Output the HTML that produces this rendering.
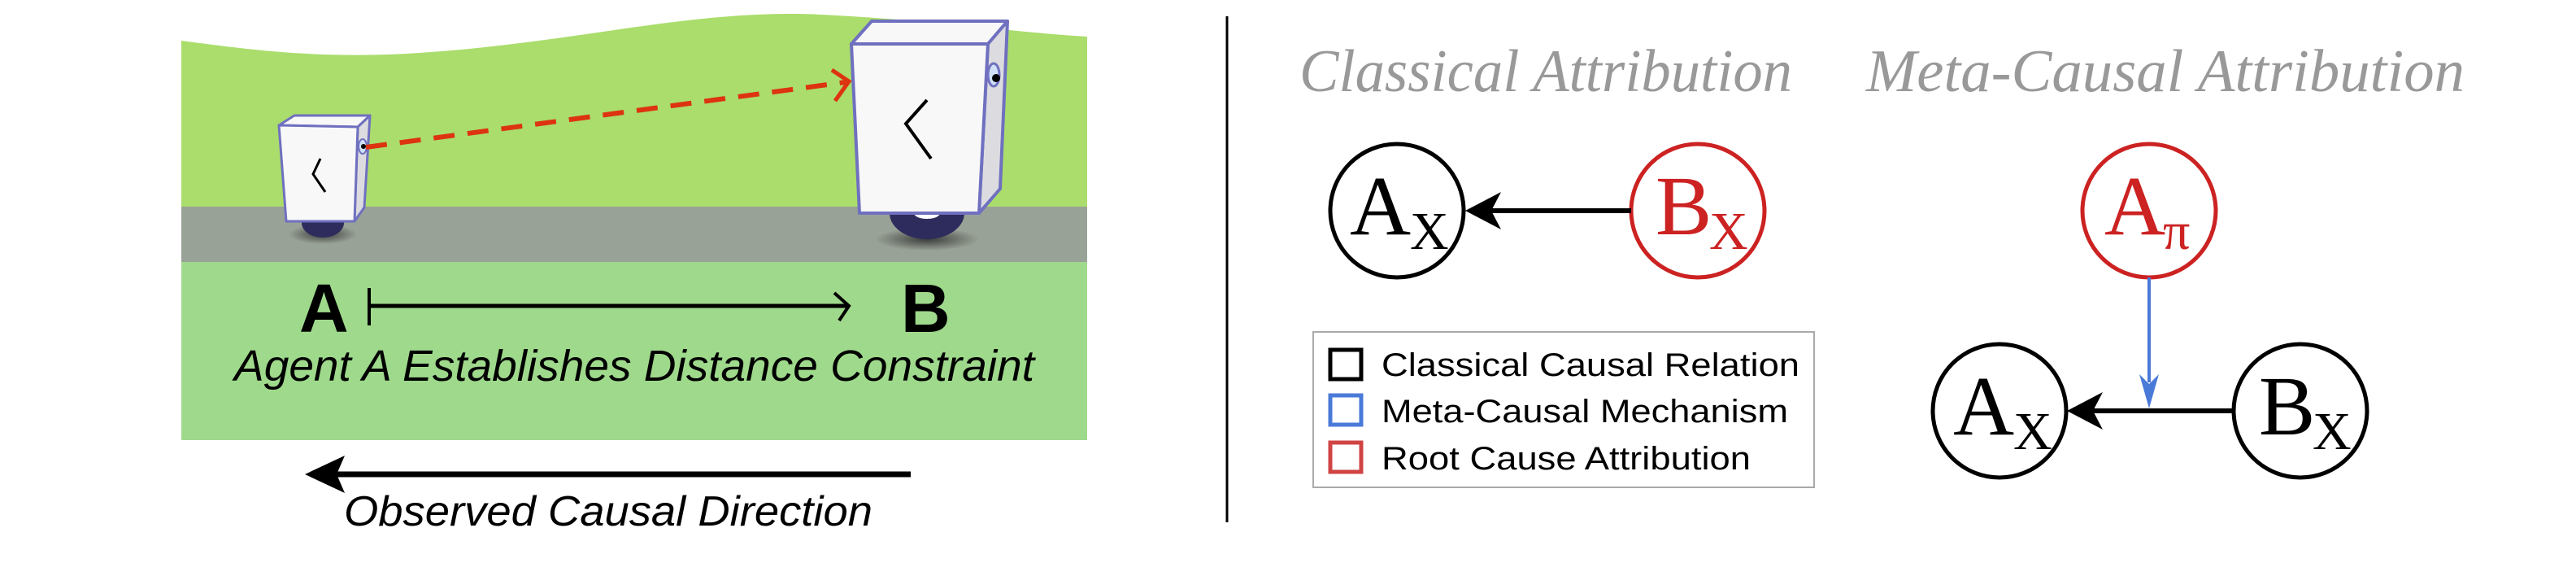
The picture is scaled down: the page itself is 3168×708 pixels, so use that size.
<!DOCTYPE html>
<html><head><meta charset="utf-8"><style>html,body{margin:0;padding:0;background:#fff}svg{display:block}</style></head>
<body>
<svg width="3168" height="708" viewBox="0 0 3168 708" xmlns="http://www.w3.org/2000/svg">
<defs>
<radialGradient id="sh" cx="0.5" cy="0.5" r="0.5"><stop offset="0" stop-color="#222" stop-opacity="0.8"/><stop offset="1" stop-color="#222" stop-opacity="0"/></radialGradient>
</defs>
<path d="M223,50 C300,60 380,72 500,66 C700,55 850,10 1010,18 C1150,25 1250,40 1337,45 L1337,322 L223,322 Z" fill="#aadd6c"/>
<rect x="223" y="254" width="1114" height="68" fill="#99a297"/>
<rect x="223" y="322" width="1114" height="219" fill="#9fd98c"/>

<ellipse cx="397" cy="288" rx="42" ry="12" fill="url(#sh)"/>
<ellipse cx="397" cy="274" rx="26" ry="18" fill="#2e2c5c"/>
<ellipse cx="399" cy="268" rx="10" ry="5" fill="#fff"/>
<path d="M343,154 L362,142 L455,142 L440,156 Z" fill="#f8f8f8" stroke="#7070c0" stroke-width="3" stroke-linejoin="round"/>
<path d="M440,156 L455,142 L448,255 L436,272 Z" fill="#dcdce0" stroke="#7070c0" stroke-width="3" stroke-linejoin="round"/>
<path d="M343,154 L440,156 L436,272 L352,272 Z" fill="#f8f8f8" stroke="#7070c0" stroke-width="3" stroke-linejoin="round"/>
<ellipse cx="446" cy="180" rx="5" ry="9" fill="#cfe0f8" stroke="#7070c0" stroke-width="2"/>
<circle cx="447" cy="180" r="3" fill="#000"/>
<path d="M394,195 L385,214 L400,236" fill="none" stroke="#000" stroke-width="3"/>

<ellipse cx="1140" cy="294" rx="64" ry="14" fill="url(#sh)"/>
<ellipse cx="1140" cy="262" rx="46" ry="32" fill="#2e2c5c"/>
<ellipse cx="1140" cy="262" rx="16" ry="7" fill="#fff"/>
<path d="M1047,54 L1072,26 L1239,26 L1215,54 Z" fill="#f8f8f8" stroke="#7070c0" stroke-width="4" stroke-linejoin="round"/>
<path d="M1215,54 L1239,26 L1230,232 L1204,262 Z" fill="#dcdce0" stroke="#7070c0" stroke-width="4" stroke-linejoin="round"/>
<path d="M1047,54 L1215,54 L1204,262 L1057,262 Z" fill="#f8f8f8" stroke="#7070c0" stroke-width="4" stroke-linejoin="round"/>
<ellipse cx="1222" cy="92" rx="7" ry="14" fill="#cfe0f8" stroke="#7070c0" stroke-width="3"/>
<circle cx="1225" cy="96" r="5" fill="#000"/>
<path d="M1140,123 L1114,152 L1145,195" fill="none" stroke="#000" stroke-width="4"/>

<line x1="450" y1="181" x2="1040" y2="101" stroke="#dd3311" stroke-width="6" stroke-dasharray="26,16"/>
<path d="M1023,86 L1044,100 L1027,124" fill="none" stroke="#dd3311" stroke-width="5"/>

<g font-family="'Liberation Sans', Arial, sans-serif">
<text x="368" y="408" font-weight="bold" font-size="84">A</text>
<text x="1108" y="408" font-weight="bold" font-size="84">B</text>
<text x="288" y="468" font-style="italic" font-size="54" textLength="984" lengthAdjust="spacingAndGlyphs">Agent A Establishes Distance Constraint</text>
<text x="423" y="646" font-style="italic" font-size="52" textLength="650" lengthAdjust="spacingAndGlyphs">Observed Causal Direction</text>
</g>
<line x1="454" y1="354" x2="454" y2="400" stroke="#000" stroke-width="4"/>
<line x1="454" y1="376" x2="1042" y2="376" stroke="#000" stroke-width="5"/>
<path d="M1026,360 L1044,376 L1032,394" fill="none" stroke="#000" stroke-width="4"/>

<line x1="400" y1="583" x2="1120" y2="583" stroke="#000" stroke-width="7"/>
<path d="M375,583 L424,560 L414,583 L424,606 Z" fill="#000"/>

<line x1="1509" y1="20" x2="1509" y2="642" stroke="#000" stroke-width="3"/>

<g font-family="'Liberation Serif', 'Times New Roman', serif">
<text x="1598" y="112" font-style="italic" font-size="74" fill="#999" textLength="606" lengthAdjust="spacingAndGlyphs">Classical Attribution</text>
<text x="2295" y="112" font-style="italic" font-size="74" fill="#999" textLength="736" lengthAdjust="spacingAndGlyphs">Meta-Causal Attribution</text>

<circle cx="1718" cy="259" r="82" fill="#fff" stroke="#000" stroke-width="5"/>
<text x="1660" y="288" font-size="104">A</text><text x="1734" y="306" font-size="66">X</text>
<circle cx="2088" cy="259" r="82" fill="#fff" stroke="#cc2222" stroke-width="5"/>
<text x="2036" y="288" font-size="104" fill="#cc2222">B</text><text x="2102" y="306" font-size="66" fill="#cc2222">X</text>
<line x1="1830" y1="259" x2="2006" y2="259" stroke="#000" stroke-width="6"/>
<path d="M1802,259 L1846,236 L1834,259 L1846,282 Z" fill="#000"/>

<circle cx="2643" cy="259" r="82" fill="#fff" stroke="#cc2222" stroke-width="5"/>
<text x="2588" y="288" font-size="104" fill="#cc2222">A</text><text x="2660" y="306" font-size="66" fill="#cc2222">π</text>
<line x1="2643" y1="341" x2="2643" y2="470" stroke="#4a7ad8" stroke-width="4"/>
<path d="M2643,502 L2631,460 L2643,472 L2655,460 Z" fill="#4a7ad8"/>
<circle cx="2459" cy="505" r="82" fill="#fff" stroke="#000" stroke-width="5"/>
<text x="2402" y="534" font-size="104">A</text><text x="2476" y="552" font-size="66">X</text>
<circle cx="2829" cy="505" r="82" fill="#fff" stroke="#000" stroke-width="5"/>
<text x="2778" y="534" font-size="104">B</text><text x="2844" y="552" font-size="66">X</text>
<line x1="2570" y1="505" x2="2747" y2="505" stroke="#000" stroke-width="6"/>
<path d="M2542,505 L2586,482 L2574,505 L2586,528 Z" fill="#000"/>
</g>

<rect x="1615" y="408" width="616" height="191" fill="#fff" stroke="#aaa" stroke-width="2"/>
<rect x="1636" y="430" width="38" height="36" fill="none" stroke="#000" stroke-width="5"/>
<rect x="1636" y="486" width="38" height="36" fill="none" stroke="#4a7ad8" stroke-width="5"/>
<rect x="1636" y="544" width="38" height="36" fill="none" stroke="#d04444" stroke-width="5"/>
<g font-family="'Liberation Sans', Arial, sans-serif" font-size="40">
<text x="1699" y="462" textLength="514" lengthAdjust="spacingAndGlyphs">Classical Causal Relation</text>
<text x="1699" y="519" textLength="500" lengthAdjust="spacingAndGlyphs">Meta-Causal Mechanism</text>
<text x="1699" y="577" textLength="454" lengthAdjust="spacingAndGlyphs">Root Cause Attribution</text>
</g>
</svg>
</body></html>
